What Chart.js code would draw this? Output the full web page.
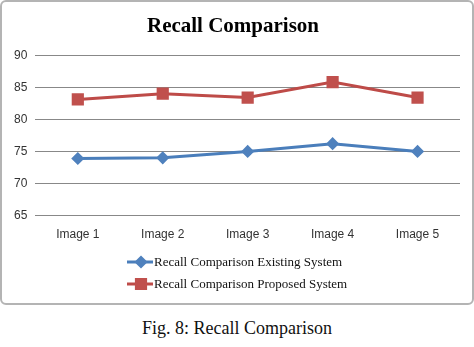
<!DOCTYPE html>
<html>
<head>
<meta charset="utf-8">
<script src="https://cdn.jsdelivr.net/npm/chart.js@4/dist/chart.umd.min.js"></script>
<style>
  body { margin: 0; background: #fff; width: 474px; height: 347px; overflow: hidden; }
  #box { position: absolute; left: 0; top: 0; width: 474px; height: 305px; box-sizing: border-box;
         border: 2px solid #b4b4b4; border-radius: 6px; background: #fff; }
  #box canvas { display: block; }
  #caption { position: absolute; left: 0; top: 318px; width: 474px; text-align: center;
             font-family: "Liberation Serif", serif; font-size: 18px; color: #111; }
</style>
</head>
<body>
<div id="box"><canvas id="chart" width="470" height="301"></canvas></div>
<div id="caption">Fig. 8: Recall Comparison</div>
<script>
const categories = ["Image 1", "Image 2", "Image 3", "Image 4", "Image 5"];
const existingSystem = [73.9, 74.0, 75.0, 76.2, 75.0];
const proposedSystem = [83.1, 84.0, 83.4, 85.8, 83.4];
const seriesNames = ["Recall Comparison Existing System", "Recall Comparison Proposed System"];
const yTicks = [65, 70, 75, 80, 85, 90];

// legend drawn under the chart, one item per line
const legendPlugin = {
  id: "stackedLegend",
  afterDraw(chart) {
    const ctx = chart.ctx;
    ctx.save();
    chart.data.datasets.forEach((ds, i) => {
      const y = 260 + i * 22;
      ctx.strokeStyle = ds.borderColor;
      ctx.lineWidth = 3;
      ctx.beginPath();
      ctx.moveTo(125, y);
      ctx.lineTo(151, y);
      ctx.stroke();
      ctx.fillStyle = ds.pointBackgroundColor;
      ctx.strokeStyle = ds.pointBackgroundColor;
      Chart.helpers.drawPoint(ctx, { pointStyle: ds.pointStyle, radius: ds.pointRadius, rotation: 0, borderWidth: 1 }, 139, y);
      ctx.fillStyle = "#111";
      ctx.font = "13px 'Liberation Serif'";
      ctx.textBaseline = "middle";
      ctx.textAlign = "left";
      ctx.fillText(ds.label, 152, y + 1);
    });
    ctx.restore();
  }
};

new Chart(document.getElementById("chart"), {
  type: "line",
  data: {
    labels: categories,
    datasets: [
      {
        label: seriesNames[0],
        data: existingSystem,
        borderColor: "#4a7ebb",
        borderWidth: 3,
        pointStyle: "rectRot",
        pointRadius: 4.5,
        pointBackgroundColor: "#4f81bd",
        pointBorderColor: "#4f81bd",
        tension: 0
      },
      {
        label: seriesNames[1],
        data: proposedSystem,
        borderColor: "#be4b48",
        borderWidth: 3,
        pointStyle: "rect",
        pointRadius: 6.5,
        pointBackgroundColor: "#c0504d",
        pointBorderColor: "#c0504d",
        tension: 0
      }
    ]
  },
  options: {
    responsive: false,
    animation: false,
    layout: { padding: { left: 4, right: 12, top: 0, bottom: 49 } },
    plugins: {
      legend: { display: false },
      tooltip: { enabled: false },
      title: {
        display: true,
        text: "Recall Comparison",
        color: "#000",
        font: { family: "Liberation Serif", size: 21, weight: "bold" },
        padding: { top: 12, bottom: 16 }
      }
    },
    scales: {
      x: {
        offset: true,
        grid: { display: false, drawTicks: false },
        border: { display: false },
        ticks: { color: "#333", font: { family: "Liberation Sans", size: 12 }, padding: 12 }
      },
      y: {
        min: 65,
        max: 90,
        afterBuildTicks(axis) { axis.ticks = yTicks.map(v => ({ value: v })); },
        grid: { color: "#888", lineWidth: 1, drawTicks: false },
        border: { display: false },
        ticks: { color: "#333", font: { family: "Liberation Sans", size: 12 }, padding: 8 }
      }
    }
  },
  plugins: [legendPlugin]
});
</script>
</body>
</html>
